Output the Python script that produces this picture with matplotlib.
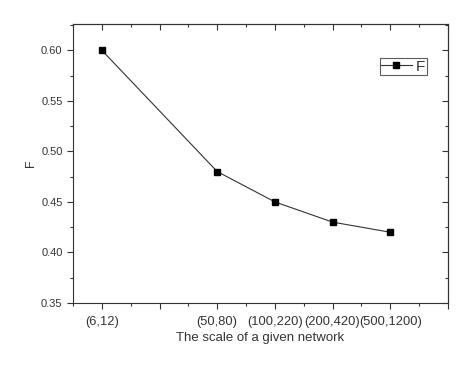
import matplotlib
matplotlib.use("Agg")
import matplotlib.pyplot as plt
from matplotlib.ticker import MultipleLocator, FixedLocator, FixedFormatter

categories = ["(6,12)", "(50,80)", "(100,220)", "(200,420)", "(500,1200)"]
positions = [1, 3, 4, 5, 6]
F_values = [0.60, 0.48, 0.45, 0.43, 0.42]

plt.rcParams['font.family'] = ['Liberation Sans', 'DejaVu Sans']
txt = '#333333'

fig = plt.figure(figsize=(4.74, 3.70), dpi=100)
ax = fig.add_axes([73/474, 1-303/370, (448-73)/474, (303-24)/370])

ax.plot(positions, F_values, color='#333333', lw=0.8, marker='s', ms=5,
        mfc='black', mec='black', label='F')

ax.set_xlim(0.5, 7)
ax.set_ylim(0.35, 0.626)
ax.xaxis.set_major_locator(FixedLocator([1, 2, 3, 4, 5, 6, 7]))
ax.xaxis.set_major_formatter(FixedFormatter([categories[0], "", categories[1], categories[2], categories[3], categories[4], ""]))
ax.xaxis.set_minor_locator(MultipleLocator(0.5))
ax.yaxis.set_major_locator(MultipleLocator(0.05))
ax.yaxis.set_minor_locator(MultipleLocator(0.025))
ax.yaxis.set_major_formatter(matplotlib.ticker.FormatStrFormatter('%.2f'))

ax.tick_params(axis='both', which='major', direction='out', length=4, width=0.8,
               labelsize=8, colors='#333333', labelcolor=txt)
ax.tick_params(axis='both', which='minor', direction='out', length=2, width=0.8, colors='#333333')
ax.tick_params(axis='x', labelsize=9.3, pad=5)

# top/right inward ticks
ax2 = ax.secondary_xaxis('top')
ax2.xaxis.set_major_locator(FixedLocator([1, 2, 3, 4, 5, 6, 7]))
ax2.xaxis.set_minor_locator(MultipleLocator(0.5))
ax2.tick_params(which='major', direction='in', length=4, width=0.8, labeltop=False, colors='#333333')
ax2.tick_params(which='minor', direction='in', length=2, width=0.8, colors='#333333')
ax3 = ax.secondary_yaxis('right')
ax3.yaxis.set_major_locator(MultipleLocator(0.05))
ax3.yaxis.set_minor_locator(MultipleLocator(0.025))
ax3.tick_params(which='major', direction='in', length=4, width=0.8, labelright=False, colors='#333333')
ax3.tick_params(which='minor', direction='in', length=2, width=0.8, colors='#333333')
for a in (ax2, ax3):
    for s in a.spines.values():
        s.set_color('#333333')
        s.set_linewidth(0.8)

for s in ax.spines.values():
    s.set_color('#333333')
    s.set_linewidth(0.8)

ax.set_xlabel("The scale of a given network", fontsize=9.5, color=txt, labelpad=3)
ax.set_ylabel("F", fontsize=9, color=txt, labelpad=3)

leg = ax.legend(loc='upper right', bbox_to_anchor=(0.944, 0.878), borderaxespad=0,
                fontsize=11, frameon=True, fancybox=False, handlelength=2.0,
                handletextpad=0.3, borderpad=0.1, markerscale=0.8)
leg.get_frame().set_edgecolor('#333333')
leg.get_frame().set_linewidth(0.8)
for t in leg.get_texts():
    t.set_color(txt)

fig.savefig("out.png", dpi=100)
